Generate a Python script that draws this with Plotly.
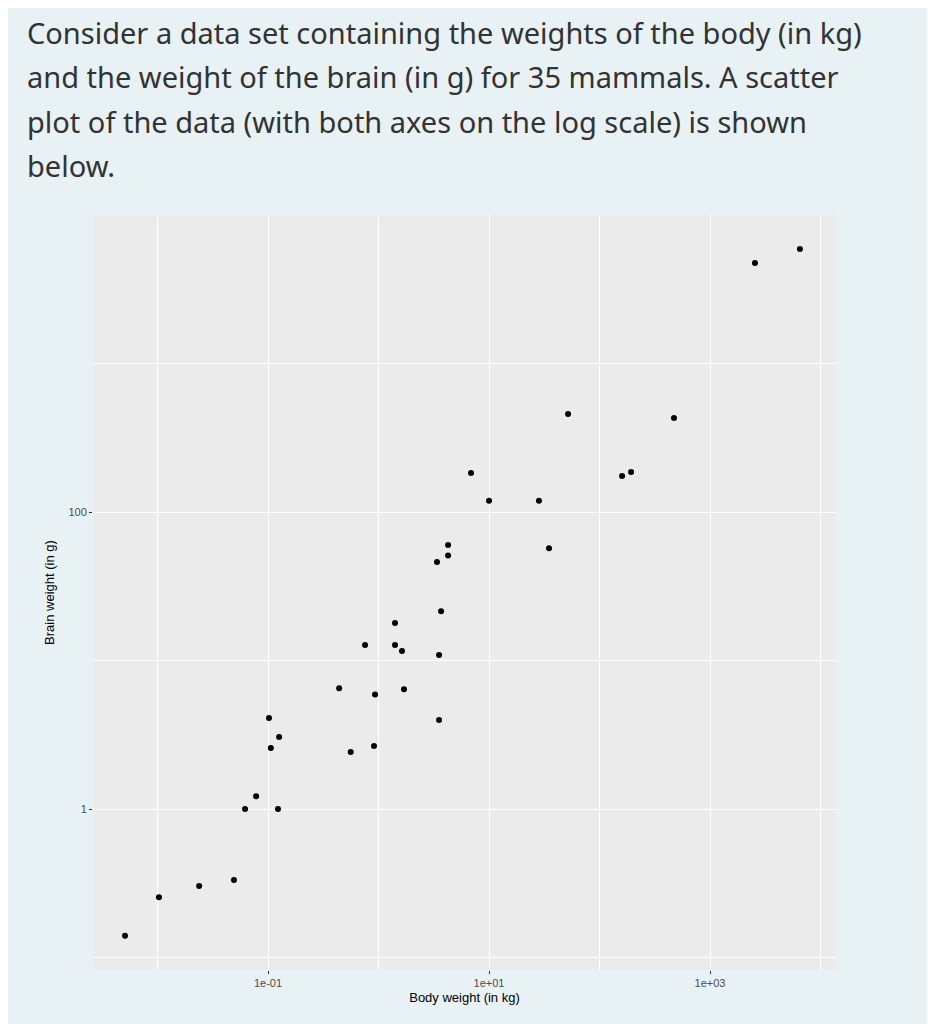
import plotly.graph_objects as go

body_kg = [0.00508, 0.0103, 0.0238, 0.0492, 0.062, 0.078, 0.123, 0.102, 0.106, 0.126,
           0.44, 0.56, 0.755, 0.93, 0.91, 1.41, 1.41, 1.63, 1.70, 3.38,
           3.68, 3.53, 3.53, 4.26, 4.26, 6.87, 10.0, 28.3, 34.9, 51.9,
           160, 193, 472, 2550, 6510]
brain_g = [0.14, 0.255, 0.303, 0.333, 1.0, 1.22, 1.0, 4.1, 2.58, 3.05,
           6.5, 2.42, 12.7, 5.9, 2.66, 17.9, 12.7, 11.6, 6.4, 46,
           21.5, 10.9, 3.97, 60, 51, 183, 119, 119, 57, 457,
           175, 186, 430, 4750, 5900]
x_ticks = [0.1, 10, 1000]
x_labels = ["1e-01", "1e+01", "1e+03"]
y_ticks = [1, 100]
y_labels = ["1", "100"]
x_minor = [0.01, 1, 100, 10000]
y_minor = [0.1, 10, 1000]
header = ["Consider a data set containing the weights of the body (in kg)",
          "and the weight of the brain (in g) for 35 mammals. A scatter",
          "plot of the data (with both axes on the log scale) is shown",
          "below."]

fig = go.Figure(go.Scatter(x=body_kg, y=brain_g, mode="markers",
                           marker=dict(color="black", size=6)))

axcommon = dict(type="log", showline=False, zeroline=False, gridcolor="white", gridwidth=1.4,
                ticks="outside", ticklen=3, tickcolor="#333333",
                tickfont=dict(family="Liberation Sans", size=11, color="#4d4d4d"))
fig.update_xaxes(range=[-2.584, 4.14], tickvals=x_ticks, ticktext=x_labels,
                 minor=dict(tickvals=x_minor, showgrid=True, gridcolor="white", gridwidth=0.7, ticks=""),
                 title=dict(text="Body weight (in kg)", font=dict(family="Liberation Sans", size=13, color="black"), standoff=4),
                 **axcommon)
fig.update_yaxes(range=[-1.084, 4.0], tickvals=y_ticks, ticktext=y_labels,
                 minor=dict(tickvals=y_minor, showgrid=True, gridcolor="white", gridwidth=0.7, ticks=""),
                 title=dict(text="Brain weight (in g)", font=dict(family="Liberation Sans", size=13, color="black"), standoff=10),
                 **axcommon)

ys = [1.242, 1.184, 1.1245, 1.065]
for t, yy in zip(header, ys):
    fig.add_annotation(text=t, xref="paper", yref="paper", x=-0.0915, y=yy,
                       xanchor="left", yanchor="middle", showarrow=False,
                       font=dict(family="Noto Sans", size=29, color="#333333"))

fig.update_layout(width=935, height=1024, margin=dict(l=85, r=107, t=207, b=62),
                  paper_bgcolor="#e8f1f4", plot_bgcolor="#ebebeb", showlegend=False)
fig.write_html("out.html")
